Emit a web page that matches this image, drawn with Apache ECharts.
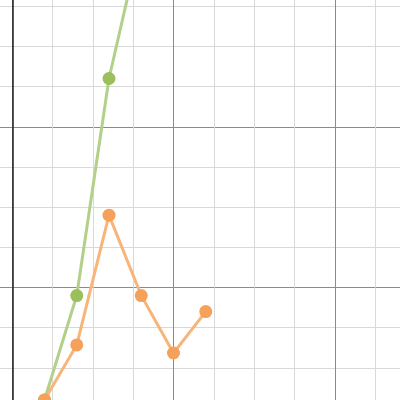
<!DOCTYPE html>
<html><head><meta charset="utf-8">
<script src="https://cdn.jsdelivr.net/npm/echarts@6/dist/echarts.min.js"></script>
<style>html,body{margin:0;padding:0;background:#fff;overflow:hidden;width:400px;height:400px}
#wrap{position:relative;width:400px;height:400px;overflow:hidden}
#c{position:absolute;left:-149px;top:-34px;width:645px;height:643px}</style>
</head><body><div id="wrap"><div id="c"></div></div>
<script>
var orangeData = [[0.8, -0.8], [1.6, 0.57], [2.4, 3.8], [3.2, 1.8], [4.0, 0.37], [4.8, 1.4]];
var greenData = [[0.8, -0.8], [1.6, 1.8], [2.4, 7.2], [3.2, 10.7]];

var chart = echarts.init(document.getElementById("c"));
var axisCommon = {
  type: "value",
  interval: 4,
  axisLabel: { show: false },
  axisTick: { show: false },
  splitLine: { show: true, lineStyle: { color: "#8a8a8a", width: 1 } },
  minorTick: { show: false, splitNumber: 4 },
  minorSplitLine: { show: true, lineStyle: { color: "#d9d9d9", width: 1 } }
};
chart.setOption({
  animation: false,
  grid: { left: 0, right: 0, top: 0, bottom: 0 },
  xAxis: Object.assign({}, axisCommon, { min: -4, max: 12, axisLine: { show: false } }),
  yAxis: Object.assign({}, axisCommon, { min: -6, max: 10,
    axisLine: { show: true, onZero: true, lineStyle: { color: "#222", width: 1.5 } } }),
  series: [
    { type: "line", data: greenData, symbol: "circle", symbolSize: 13,
      lineStyle: { color: "#b3d08a", width: 3 }, itemStyle: { color: "#9bbf5c" } },
    { type: "line", data: orangeData, symbol: "circle", symbolSize: 13,
      lineStyle: { color: "#f7b57a", width: 3 }, itemStyle: { color: "#f5a15a" } }
  ]
});
</script></body></html>
